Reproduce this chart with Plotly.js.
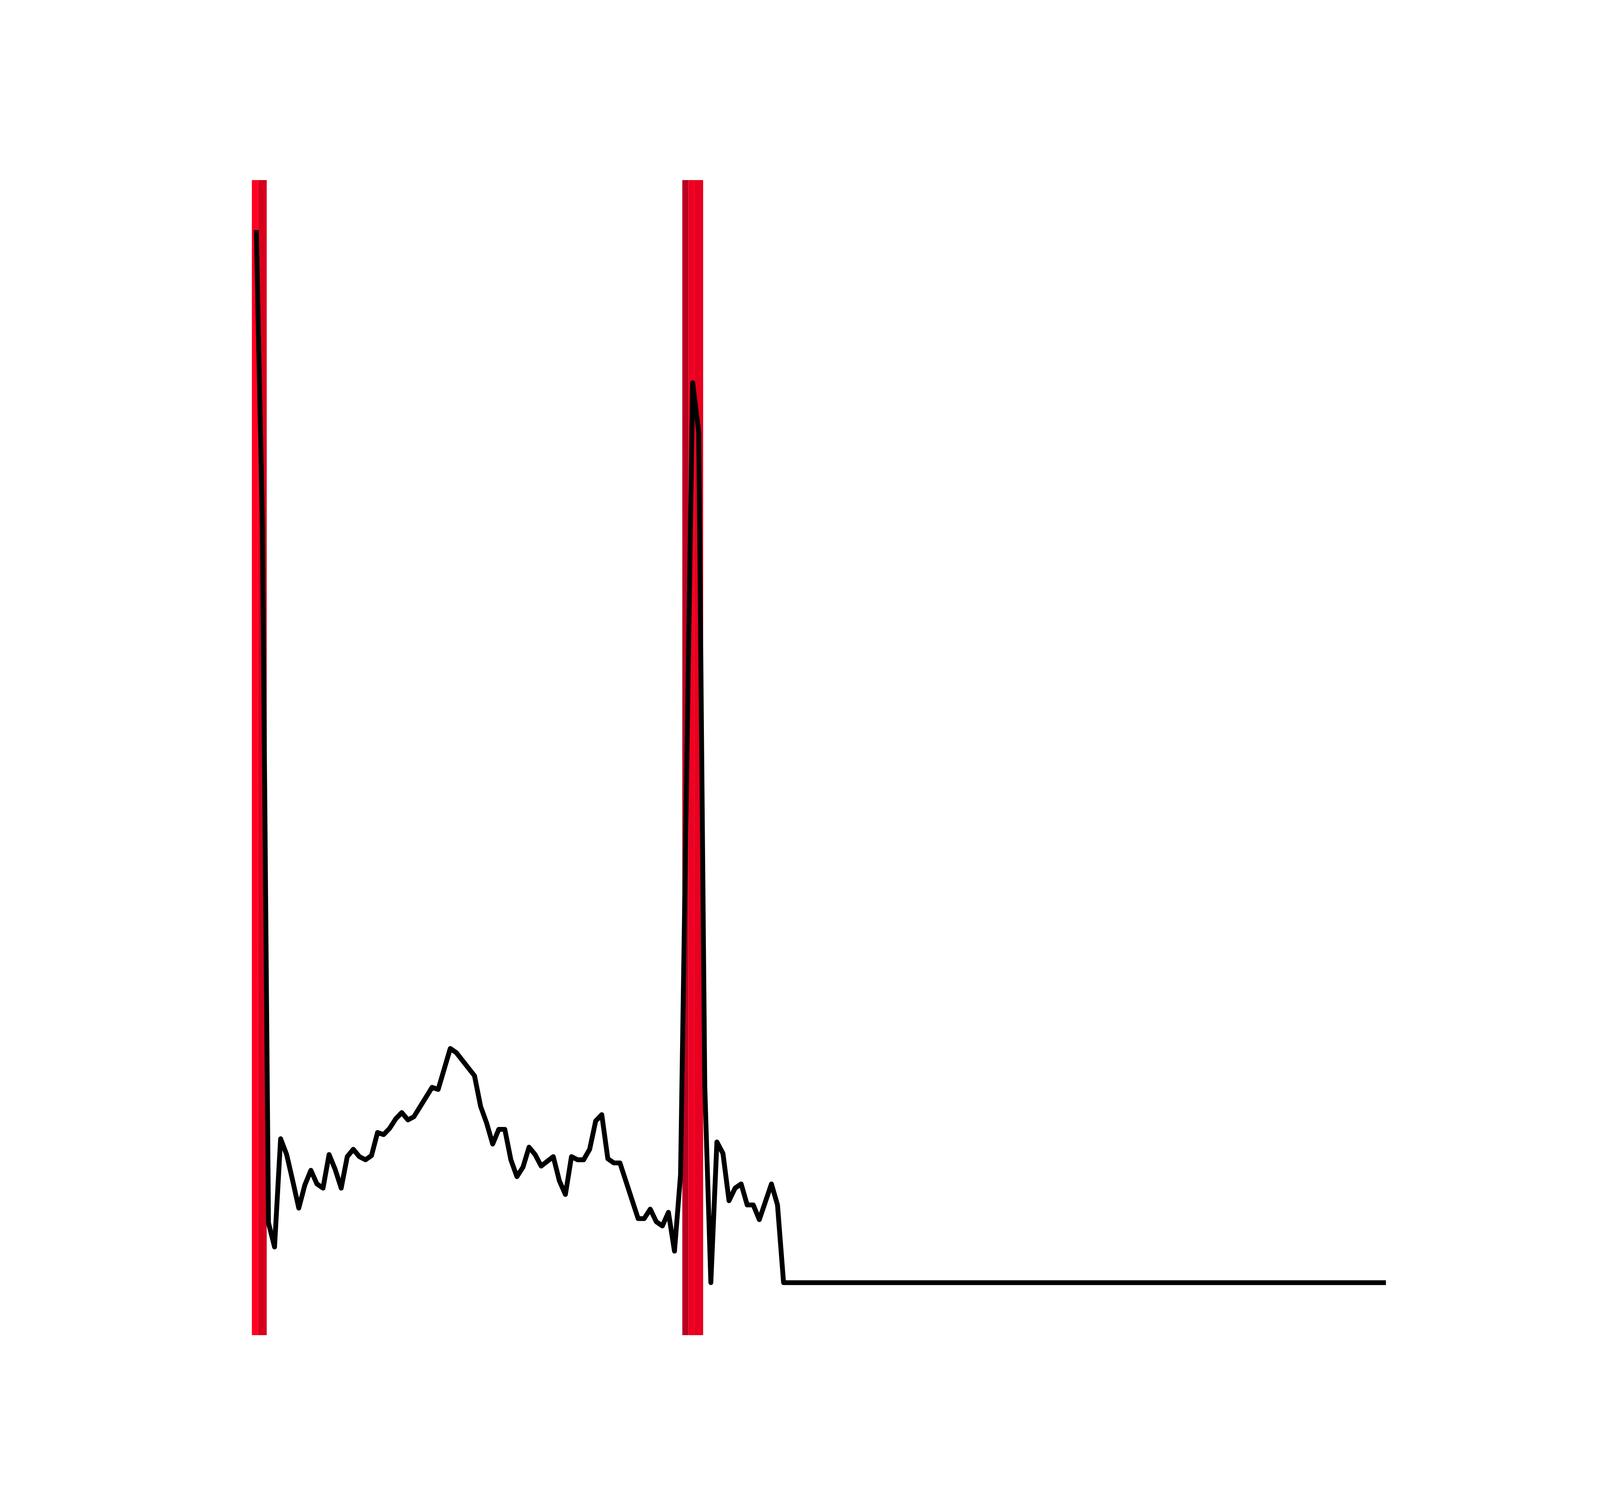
<!DOCTYPE html>
<html>
<head>
<meta charset="utf-8">
<script src="https://cdn.plot.ly/plotly-3.0.1.min.js"></script>
<style>
  html, body { margin: 0; padding: 0; background: #fff; overflow: hidden; }
  #chart { position: absolute; left: 0; top: 0; }
</style>
</head>
<body>
<div id="chart"></div>
<script>
// signal values, one per sample (peak = 100)
var signal = [
  100, 72.0, 5.7, 3.4, 13.7, 12.2, 9.7, 7.1, 9.3, 10.7,
  9.4, 9.0, 12.2, 10.8, 9.0, 12.0, 12.7, 12.0, 11.7, 12.1,
  14.3, 14.1, 14.7, 15.6, 16.2, 15.5, 15.8, 16.8, 17.7, 18.6,
  18.4, 20.4, 22.3, 21.9, 21.2, 20.4, 19.7, 16.8, 15.2, 13.2,
  14.6, 14.6, 11.7, 10.1, 11.0, 12.9, 12.2, 11.1, 11.5, 12.0,
  9.7, 8.4, 12.0, 11.7, 11.7, 12.7, 15.4, 16.0, 11.8, 11.4,
  11.4, 9.7, 8.1, 6.1, 6.1, 7.0, 5.8, 5.4, 6.7, 3.0,
  10.3, 47.8, 85.7, 81.0, 18.7, 0, 13.4, 12.3, 7.8, 9.0,
  9.4, 7.4, 7.4, 6.0, 7.7, 9.4, 7.4,
  0, 0, 0, 0, 0, 0, 0, 0, 0, 0,
  0, 0, 0, 0, 0, 0, 0, 0, 0, 0,
  0, 0, 0, 0, 0, 0, 0, 0, 0, 0,
  0, 0, 0, 0, 0, 0, 0, 0, 0, 0,
  0, 0, 0, 0, 0, 0, 0, 0, 0, 0,
  0, 0, 0, 0, 0, 0, 0, 0, 0, 0,
  0, 0, 0, 0, 0, 0, 0, 0, 0, 0,
  0, 0, 0, 0, 0, 0, 0, 0, 0, 0,
  0, 0, 0, 0, 0, 0, 0, 0, 0, 0,
  0, 0, 0, 0, 0, 0, 0, 0, 0, 0
];

// highlighted spans, in sample units
var spanStart = [-0.74, 0.29, 70.29, 71.30, 72.30];
var spanEnd   = [0.29, 1.71, 71.30, 72.30, 73.73];
var spanColor = ['#ff0022', '#d7001c', '#ba0020', '#ee0021', '#e7001f'];

var samples = [];
for (var i = 0; i < signal.length; i++) samples.push(i);

// size to the real viewport so the figure fills the window
var W = window.innerWidth || 5120;
var H = window.innerHeight || 3840;
var k = W / 5120;

var n = samples.length - 1;
var xPad = n * 0.05;
var yPad = 100 * 0.05;

var shapes = [];
for (var s = 0; s < spanStart.length; s++) {
  shapes.push({
    type: 'rect',
    xref: 'x', yref: 'paper',
    x0: spanStart[s], x1: spanEnd[s],
    y0: 0, y1: 1,
    fillcolor: spanColor[s],
    line: { width: 0 },
    layer: 'below'
  });
}

var trace = {
  x: samples,
  y: signal,
  type: 'scatter',
  mode: 'lines',
  line: { color: '#000000', width: 15.5 * k },
  hoverinfo: 'skip'
};

var layout = {
  width: W,
  height: H,
  margin: { l: 0.125 * W, r: 0.1 * W, t: 0.12 * H, b: 0.11 * H, pad: 0 },
  paper_bgcolor: '#ffffff',
  plot_bgcolor: '#ffffff',
  showlegend: false,
  xaxis: { visible: false, range: [-xPad, n + xPad], fixedrange: true },
  yaxis: { visible: false, range: [-yPad, 100 + yPad], fixedrange: true },
  shapes: shapes
};

Plotly.newPlot('chart', [trace], layout, { staticPlot: true, displayModeBar: false }).then(function () {
  var paths = document.querySelectorAll('.scatterlayer path.js-line');
  paths.forEach(function (p) {
    p.style.strokeLinejoin = 'round';
    p.style.strokeLinecap = 'square';
  });
});
</script>
</body>
</html>
